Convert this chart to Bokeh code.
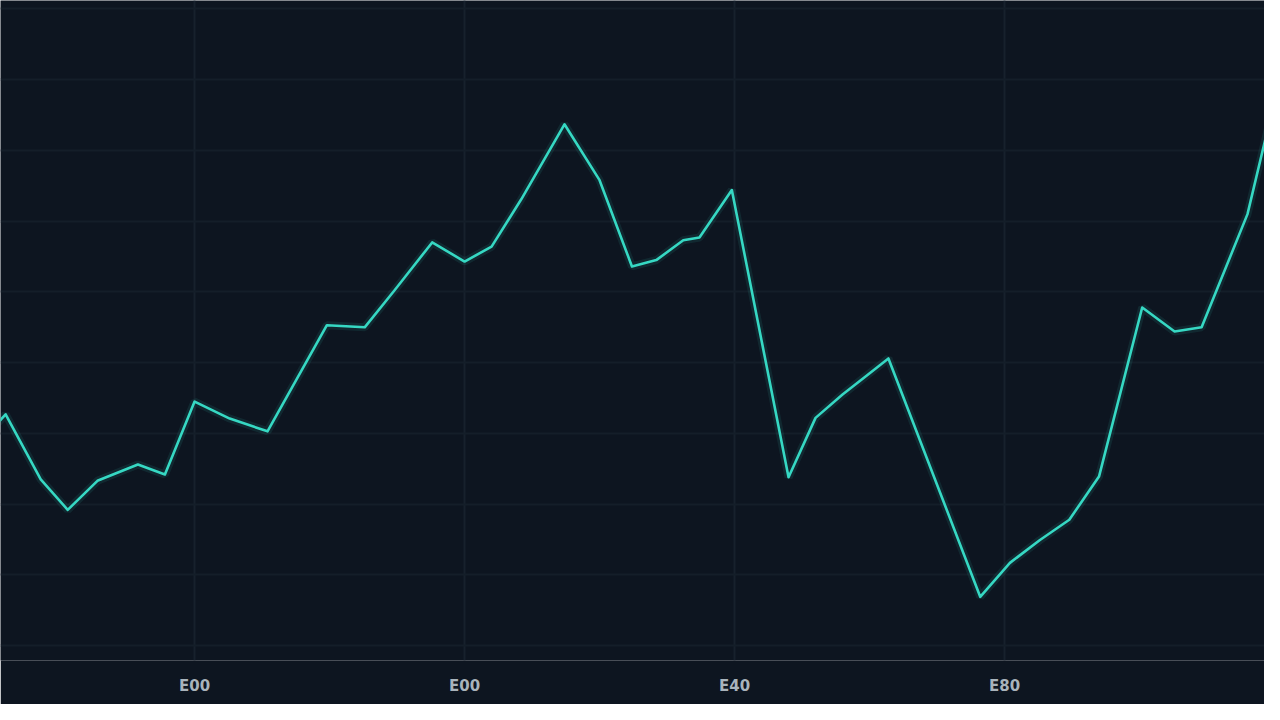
from bokeh.plotting import figure
from bokeh.models import FixedTicker, Range1d, Grid
from bokeh.embed import file_html
from bokeh.resources import INLINE

# Data
x_vals = [-75, -70, -57, -47, -36, -21, -11, 0, 13, 27, 49, 63, 74, 88, 100, 110, 121,
          137, 150, 162, 171, 181, 187, 199, 220, 230, 240, 249, 257, 291, 302, 313,
          324, 335, 351, 363, 373, 390, 399, 403]
y_vals = [30.6, 32.7, 23.5, 19.2, 23.3, 25.6, 24.2, 34.5, 32.1, 30.3, 45.3, 45.0, 50.2,
          57.0, 54.3, 56.4, 63.1, 73.7, 65.8, 53.6, 54.5, 57.3, 57.7, 64.4, 23.8, 32.2,
          35.5, 38.2, 40.6, 6.9, 11.7, 14.9, 17.8, 23.9, 47.8, 44.4, 45.0, 61.0, 75.4, 77.0]
x_ticks = [0, 100, 200, 300, 400]
x_tick_labels = ["E00", "E00", "E40", "E80", "0S"]
y_grid_ticks = [0, 10, 20, 30, 40, 50, 60, 70, 80, 90]

BG = "#0d1520"
LINE = "#36d8c3"

p = figure(width=1264, height=704, output_backend="svg", toolbar_location=None,
           x_range=Range1d(-71.9, 396.3), y_range=Range1d(-2.1, 91.2),
           y_axis_location=None,
           background_fill_color=BG, border_fill_color=BG,
           min_border_left=0, min_border_right=0, min_border_top=0, min_border_bottom=44)
p.outline_line_color = None

p.xaxis.ticker = FixedTicker(ticks=x_ticks)
p.xaxis.major_label_overrides = {t: l for t, l in zip(x_ticks, x_tick_labels)}
p.xaxis.axis_line_color = None
p.xaxis.axis_line_alpha = 0
p.xaxis.major_tick_line_color = None
p.xaxis.minor_tick_line_color = None
p.xaxis.major_label_text_color = "#a9b3bb"
p.xaxis.major_label_text_font = "DejaVu Sans"
p.xaxis.major_label_text_font_size = "15px"
p.xaxis.major_label_text_font_style = "bold"
p.xaxis.major_label_standoff = 10

p.xgrid.grid_line_color = "#17212c"
p.xgrid.grid_line_width = 2

ygrid = Grid(dimension=1, ticker=FixedTicker(ticks=y_grid_ticks),
             grid_line_color="#141e29", grid_line_width=2)
p.add_layout(ygrid)

# glow + line
p.line(x_vals, y_vals, line_color=LINE, line_width=8, line_alpha=0.10)
p.line(x_vals, y_vals, line_color=LINE, line_width=2.6, line_join="round")

open("out.html", "w").write(file_html(p, INLINE))
